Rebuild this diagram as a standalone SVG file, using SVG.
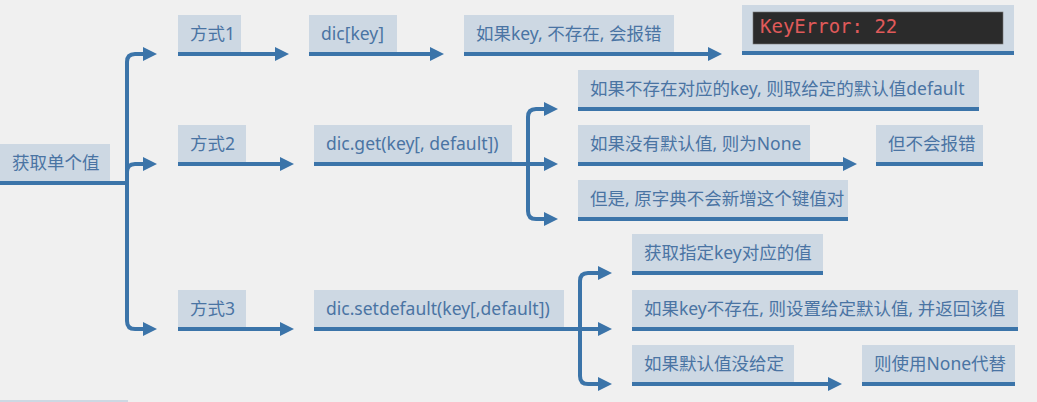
<svg xmlns="http://www.w3.org/2000/svg" width="1037" height="402" viewBox="0 0 1037 402">
<defs>
<style>
.box{fill:#cdd8e3}
.ul{stroke:#3b74a9;stroke-width:4}
.t{font-family:"Noto Sans","Noto Sans CJK SC",sans-serif;font-size:17.5px;fill:#4a74a3}
.conn{fill:none;stroke:#3b74a9;stroke-width:4;marker-end:url(#arr)}
.code{font-family:"DejaVu Sans Mono","Liberation Mono",monospace;font-size:19px;fill:#e05a5a}
</style>
<marker id="arr" markerUnits="userSpaceOnUse" markerWidth="14" markerHeight="14" refX="0" refY="7" orient="auto">
<path d="M0,0 L14,7 L0,14 Z" fill="#3b74a9"/>
</marker>
</defs>
<rect x="0" y="0" width="1037" height="402" fill="#f0f0f0"/>
<g id="connectors">
<path class="conn" d="M110 183 H127 V62 Q127 54 135 54 H143"/>
<path class="conn" d="M110 183 H127 V172 Q127 164 135 164 H143"/>
<path class="conn" d="M110 183 H127 V321 Q127 329 135 329 H143"/>
<path class="conn" d="M241 54 H275"/>
<path class="conn" d="M246 164 H280"/>
<path class="conn" d="M246 329 H280"/>
<path class="conn" d="M397 54 H430"/>
<path class="conn" d="M674 54 H708"/>
<path class="conn" d="M512 164 H528 V117 Q528 109 536 109 H544"/>
<path class="conn" d="M512 164 H544"/>
<path class="conn" d="M512 164 H528 V211 Q528 219 536 219 H544"/>
<path class="conn" d="M810 164 H843"/>
<path class="conn" d="M564 329 H580 V281 Q580 273 588 273 H598"/>
<path class="conn" d="M564 329 H598"/>
<path class="conn" d="M564 329 H580 V376 Q580 384 588 384 H598"/>
<path class="conn" d="M794 384 H828"/>
</g>
<g id="n0"><rect class="box" x="0" y="144" width="110" height="39"/><line class="ul" x1="0" y1="183" x2="110" y2="183"/><text class="t" x="12" y="169">获取单个值</text></g>
<g id="n1"><rect class="box" x="178" y="15" width="63" height="39"/><line class="ul" x1="178" y1="54" x2="241" y2="54"/><text class="t" x="190" y="40">方式1</text></g>
<g id="n2"><rect class="box" x="178" y="125" width="68" height="39"/><line class="ul" x1="178" y1="164" x2="246" y2="164"/><text class="t" x="190" y="150">方式2</text></g>
<g id="n3"><rect class="box" x="178" y="290" width="68" height="39"/><line class="ul" x1="178" y1="329" x2="246" y2="329"/><text class="t" x="190" y="315">方式3</text></g>
<g id="n4"><rect class="box" x="309" y="15" width="88" height="39"/><line class="ul" x1="309" y1="54" x2="397" y2="54"/><text class="t" x="321" y="40">dic[key]</text></g>
<g id="n5"><rect class="box" x="464" y="15" width="210" height="39"/><line class="ul" x1="464" y1="54" x2="674" y2="54"/><text class="t" x="476" y="40">如果key, 不存在, 会报错</text></g>
<g id="n6"><rect class="box" x="742" y="5" width="272" height="49"/><line class="ul" x1="742" y1="53" x2="1014" y2="53"/><rect x="753" y="12" width="250" height="32" fill="#2b2b2b" stroke="#777" stroke-width="0.6"/><text class="code" x="760" y="33">KeyError: 22</text></g>
<g id="n7"><rect class="box" x="314" y="125" width="198" height="39"/><line class="ul" x1="314" y1="164" x2="512" y2="164"/><text class="t" x="326" y="150">dic.get(key[, default])</text></g>
<g id="n8"><rect class="box" x="578" y="70" width="401" height="39"/><line class="ul" x1="578" y1="109" x2="979" y2="109"/><text class="t" x="590" y="95">如果不存在对应的key, 则取给定的默认值default</text></g>
<g id="n9"><rect class="box" x="578" y="125" width="232" height="39"/><line class="ul" x1="578" y1="164" x2="810" y2="164"/><text class="t" x="590" y="150">如果没有默认值,  则为None</text></g>
<g id="n10"><rect class="box" x="876" y="125" width="107" height="39"/><line class="ul" x1="876" y1="164" x2="983" y2="164"/><text class="t" x="888" y="150">但不会报错</text></g>
<g id="n11"><rect class="box" x="578" y="180" width="270" height="39"/><line class="ul" x1="578" y1="219" x2="848" y2="219"/><text class="t" x="590" y="205">但是, 原字典不会新增这个键值对</text></g>
<g id="n12"><rect class="box" x="314" y="290" width="250" height="39"/><line class="ul" x1="314" y1="329" x2="564" y2="329"/><text class="t" x="326" y="315">dic.setdefault(key[,default])</text></g>
<g id="n13"><rect class="box" x="632" y="234" width="191" height="39"/><line class="ul" x1="632" y1="273" x2="823" y2="273"/><text class="t" x="644" y="259">获取指定key对应的值</text></g>
<g id="n14"><rect class="box" x="632" y="290" width="386" height="39"/><line class="ul" x1="632" y1="329" x2="1018" y2="329"/><text class="t" x="644" y="315">如果key不存在, 则设置给定默认值, 并返回该值</text></g>
<g id="n15"><rect class="box" x="632" y="345" width="162" height="39"/><line class="ul" x1="632" y1="384" x2="794" y2="384"/><text class="t" x="644" y="370">如果默认值没给定</text></g>
<g id="n16"><rect class="box" x="862" y="345" width="153" height="39"/><line class="ul" x1="862" y1="384" x2="1015" y2="384"/><text class="t" x="874" y="370">则使用None代替</text></g>
<rect class="box" x="0" y="400" width="128" height="2"/>
</svg>
